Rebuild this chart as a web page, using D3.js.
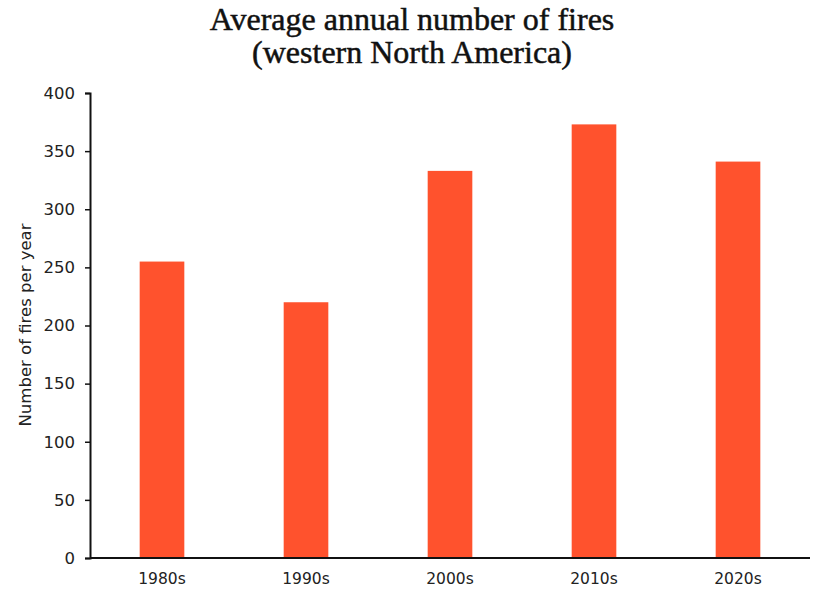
<!DOCTYPE html>
<html><head><meta charset="utf-8">
<script src="https://cdn.jsdelivr.net/npm/d3@7"></script>
<style>body{margin:0;background:#fff}</style>
</head><body>
<svg id="c" width="824" height="600"></svg>
<script>
const categories = ["1980s","1990s","2000s","2010s","2020s"];
const values = [255, 220, 333, 373, 341];
const yTicks = [0,50,100,150,200,250,300,350,400];
const titleLines = ["Average annual number of fires","(western North America)"];
const yLabel = "Number of fires per year";

const svg = d3.select("#c");
const m = {left:90, right:14, top:93, bottom:42};
const W = 824, H = 600;
const x = d3.scaleBand().domain(categories).range([m.left, W-m.right]).paddingInner(0.69).paddingOuter(0.345);
const y = d3.scaleLinear().domain([0,400]).range([H-m.bottom, m.top]);

svg.selectAll("rect.bar").data(values).join("rect")
  .attr("class","bar")
  .attr("x",(d,i)=>x(categories[i]))
  .attr("width",x.bandwidth())
  .attr("y",d=>y(d))
  .attr("height",d=>y(0)-y(d))
  .attr("fill","#ff522d");

const font = "'DejaVu Sans', sans-serif";
const ya = svg.append("g").attr("transform",`translate(${m.left},0)`)
  .call(d3.axisLeft(y).tickValues(yTicks).tickSize(5).tickPadding(10));
const xa = svg.append("g").attr("transform",`translate(0,${y(0)})`)
  .call(d3.axisBottom(x).tickSize(0).tickPadding(15));
[ya,xa].forEach(a=>{
  a.selectAll("path").attr("stroke","#111").attr("stroke-width",2);
  a.selectAll("line").attr("stroke","#111").attr("stroke-width",1.5);
  a.selectAll("text").attr("font-family",font).attr("fill","#222");
});
ya.selectAll("text").attr("font-size",16.5);
xa.selectAll("text").attr("font-size",15.5);
xa.select("path").attr("d",`M${m.left},0H${W-m.right}`);

svg.append("text").attr("transform","translate(31,325) rotate(-90)")
  .attr("text-anchor","middle").attr("font-family",font).attr("font-size",16.5).attr("fill","#222")
  .text(yLabel);

svg.selectAll("text.title").data(titleLines).join("text")
  .attr("class","title").attr("x",412).attr("y",(d,i)=>30+i*33)
  .attr("text-anchor","middle").attr("font-family","'Liberation Serif', serif")
  .attr("font-size",32).attr("fill","#111").attr("stroke","#111").attr("stroke-width",0.5)
  .text(d=>d);
</script>
</body></html>
